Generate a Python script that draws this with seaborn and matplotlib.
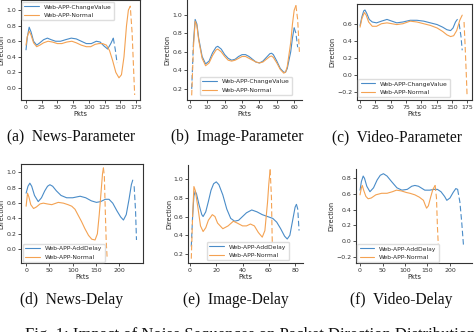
import matplotlib
matplotlib.use("Agg")
import matplotlib.pyplot as plt
from matplotlib.lines import Line2D
import numpy as np
import pandas as pd
import seaborn as sns

# ---------------- data ----------------
# (a) News-Parameter
a_blue_x = [0, 2, 5, 8, 12, 17, 22, 28, 34, 40, 47, 55, 63, 72, 80, 88, 96, 104, 112, 118, 124, 130, 135, 139, 142, 145]
a_blue_y = [0.49, 0.65, 0.78, 0.72, 0.60, 0.55, 0.58, 0.62, 0.64, 0.62, 0.60, 0.60, 0.62, 0.64, 0.63, 0.60, 0.57, 0.57, 0.60, 0.59, 0.54, 0.50, 0.57, 0.64, 0.50, 0.32]
a_orng_x = [0, 2, 5, 8, 12, 17, 22, 28, 35, 42, 50, 57, 65, 73, 80, 88, 96, 103, 110, 116, 122, 128, 133, 138, 143, 148, 152, 156, 160, 163, 166, 169, 171, 173]
a_orng_y = [0.55, 0.66, 0.73, 0.68, 0.58, 0.53, 0.55, 0.58, 0.60, 0.59, 0.57, 0.57, 0.59, 0.60, 0.58, 0.55, 0.53, 0.53, 0.56, 0.57, 0.57, 0.55, 0.48, 0.35, 0.20, 0.13, 0.17, 0.40, 0.80, 1.00, 1.05, 0.70, 0.30, -0.09]

# (b) Image-Parameter
b_blue_x = [1, 2, 3, 4, 5, 7, 9, 11, 13, 15, 16, 18, 20, 22, 24, 26, 28, 30, 32, 34, 36, 38, 40, 42, 44, 46, 47, 48, 50, 52, 54, 55, 56, 58, 59, 60, 61, 62]
b_blue_y = [0.20, 0.70, 0.95, 0.90, 0.75, 0.55, 0.47, 0.50, 0.59, 0.65, 0.66, 0.63, 0.57, 0.53, 0.51, 0.52, 0.55, 0.57, 0.57, 0.55, 0.52, 0.49, 0.48, 0.50, 0.54, 0.58, 0.585, 0.57, 0.50, 0.42, 0.38, 0.38, 0.42, 0.60, 0.75, 0.86, 0.80, 0.65]
b_orng_x = [1, 2, 3, 4, 5, 7, 9, 11, 13, 15, 16, 18, 20, 22, 24, 26, 28, 30, 32, 34, 36, 38, 40, 42, 44, 46, 47, 48, 50, 52, 54, 55, 56, 58, 59, 60, 61, 62, 63]
b_orng_y = [0.13, 0.65, 0.93, 0.88, 0.73, 0.53, 0.45, 0.48, 0.56, 0.62, 0.63, 0.60, 0.55, 0.51, 0.50, 0.51, 0.53, 0.55, 0.55, 0.53, 0.51, 0.49, 0.48, 0.49, 0.52, 0.55, 0.555, 0.54, 0.48, 0.41, 0.37, 0.38, 0.44, 0.70, 0.90, 1.05, 1.10, 0.95, 0.60]

# (c) Video-Parameter
c_blue_x = [0, 3, 6, 8, 11, 15, 20, 27, 35, 44, 52, 60, 70, 82, 93, 104, 115, 126, 135, 142, 148, 152, 156, 159, 162, 165, 167]
c_blue_y = [0.58, 0.68, 0.75, 0.76, 0.72, 0.65, 0.62, 0.61, 0.63, 0.65, 0.63, 0.61, 0.62, 0.64, 0.64, 0.63, 0.61, 0.59, 0.56, 0.53, 0.52, 0.55, 0.62, 0.65, 0.60, 0.45, 0.29]
c_orng_x = [0, 3, 7, 10, 14, 20, 27, 35, 44, 52, 60, 70, 82, 93, 104, 115, 126, 135, 142, 148, 153, 158, 163, 167, 170, 172, 174, 175]
c_orng_y = [0.56, 0.66, 0.73, 0.70, 0.62, 0.57, 0.57, 0.60, 0.61, 0.60, 0.59, 0.60, 0.63, 0.62, 0.60, 0.58, 0.55, 0.51, 0.47, 0.45, 0.46, 0.52, 0.64, 0.70, 0.62, 0.30, -0.05, -0.25]

# (d) News-Delay
d_blue_x = [0, 4, 8, 12, 18, 26, 33, 40, 46, 51, 57, 65, 75, 87, 100, 116, 128, 140, 151, 160, 170, 178, 186, 195, 203, 209, 215, 221, 226, 229, 232, 235, 237]
d_blue_y = [0.73, 0.82, 0.86, 0.82, 0.70, 0.62, 0.67, 0.76, 0.82, 0.84, 0.82, 0.76, 0.70, 0.67, 0.67, 0.69, 0.67, 0.63, 0.61, 0.62, 0.65, 0.65, 0.60, 0.50, 0.42, 0.38, 0.45, 0.65, 0.84, 0.90, 0.82, 0.50, 0.12]
d_orng_x = [0, 3, 6, 10, 16, 22, 30, 37, 45, 55, 69, 80, 90, 98, 105, 112, 119, 126, 134, 141, 148, 153, 157, 161, 164, 166, 168, 170, 172, 174]
d_orng_y = [0.56, 0.73, 0.68, 0.58, 0.53, 0.55, 0.59, 0.60, 0.59, 0.58, 0.61, 0.60, 0.58, 0.56, 0.52, 0.44, 0.36, 0.27, 0.18, 0.13, 0.12, 0.20, 0.45, 0.75, 0.98, 1.06, 0.95, 0.50, 0.10, -0.12]

# (e) Image-Delay
e_blue_x = [1, 2, 3, 4, 5, 7, 9, 10, 12, 14, 16, 18, 20, 22, 25, 28, 31, 34, 37, 40, 43, 47, 51, 55, 59, 63, 66, 69, 72, 74, 76, 78, 80, 81, 82, 83]
e_blue_y = [0.28, 0.60, 0.82, 0.87, 0.84, 0.72, 0.62, 0.60, 0.65, 0.76, 0.88, 0.95, 0.97, 0.94, 0.83, 0.68, 0.58, 0.55, 0.56, 0.60, 0.64, 0.67, 0.65, 0.62, 0.60, 0.58, 0.54, 0.47, 0.39, 0.36, 0.40, 0.55, 0.70, 0.73, 0.68, 0.45]
e_orng_x = [1, 2, 3, 4, 6, 8, 10, 12, 14, 17, 19, 21, 25, 29, 33, 36, 40, 43, 46, 49, 52, 55, 57, 59, 60, 61, 62, 62.5, 63]
e_orng_y = [0.15, 0.60, 0.92, 0.88, 0.70, 0.50, 0.44, 0.48, 0.56, 0.62, 0.60, 0.53, 0.47, 0.50, 0.55, 0.53, 0.50, 0.50, 0.52, 0.50, 0.43, 0.38, 0.45, 0.75, 0.95, 1.10, 0.80, 0.40, 0.15]

# (f) Video-Delay
f_blue_x = [0, 3, 7, 10, 15, 22, 30, 38, 45, 52, 60, 70, 82, 93, 105, 115, 122, 130, 144, 155, 165, 172, 180, 188, 193, 200, 207, 213, 217, 222, 226, 230]
f_blue_y = [0.65, 0.76, 0.83, 0.80, 0.70, 0.63, 0.68, 0.78, 0.84, 0.86, 0.83, 0.76, 0.68, 0.65, 0.66, 0.70, 0.71, 0.70, 0.65, 0.65, 0.66, 0.66, 0.63, 0.57, 0.52, 0.55, 0.62, 0.67, 0.66, 0.50, 0.25, -0.05]
f_orng_x = [0, 3, 5, 8, 13, 18, 25, 35, 48, 60, 72, 81, 92, 103, 111, 122, 132, 141, 145, 148, 152, 157, 162, 167, 170, 172, 174, 176]
f_orng_y = [0.59, 0.68, 0.71, 0.65, 0.57, 0.54, 0.55, 0.59, 0.61, 0.61, 0.63, 0.65, 0.64, 0.62, 0.61, 0.59, 0.56, 0.52, 0.46, 0.42, 0.45, 0.56, 0.66, 0.71, 0.55, 0.20, -0.05, -0.20]

captions = ["(a)  News-Parameter", "(b)  Image-Parameter", "(c)  Video-Parameter",
            "(d)  News-Delay", "(e)  Image-Delay", "(f)  Video-Delay"]
fig_caption = "Fig. 1: Impact of Noise Sequences on Packet Direction Distribution"
label_param = ["Web-APP-ChangeValue", "Web-APP-Normal"]
label_delay = ["Web-APP-AddDelay", "Web-APP-Normal"]

# ---------------- style ----------------
sns.set_theme(style="ticks")
plt.rcParams["font.family"] = ["DejaVu Sans"]

BLUE = "#4a8cc8"
ORNG = "#f4a252"
W, H = 474, 332

fig = plt.figure(figsize=(W / 100, H / 100), dpi=100)


def px_axes(l, t, r, b):
    return fig.add_axes([l / W, 1 - b / H, (r - l) / W, (b - t) / H])


panels = [
    dict(box=(21, 0, 140, 100), bx=a_blue_x, by=a_blue_y, ox=a_orng_x, oy=a_orng_y,
         bsplit=(0, 139), osplit=(0, 163), xlim=(-8, 181.5), ylim=(-0.155, 1.13),
         xt=[0, 25, 50, 75, 100, 125, 150, 175], yt=[0.0, 0.2, 0.4, 0.6, 0.8, 1.0],
         labels=label_param, leg=("upper left", (0.008, 0.98)), full=True),
    dict(box=(187, 0, 302, 100), bx=b_blue_x, by=b_blue_y, ox=b_orng_x, oy=b_orng_y,
         bsplit=(2, 60), osplit=(2, 61), xlim=(-1.7, 64.5), ylim=(0.08, 1.16),
         xt=[0, 10, 20, 30, 40, 50, 60], yt=[0.2, 0.4, 0.6, 0.8, 1.0],
         labels=label_param, leg=("lower left", (0.11, 0.05)), full=False),
    dict(box=(357, 4, 472, 100), bx=c_blue_x, by=c_blue_y, ox=c_orng_x, oy=c_orng_y,
         bsplit=(0, 160), osplit=(0, 168), xlim=(-5, 183), ylim=(-0.29, 0.83),
         xt=[0, 25, 50, 75, 100, 125, 150, 175], yt=[-0.2, 0.0, 0.2, 0.4, 0.6],
         labels=label_param, leg=("lower left", (0.01, 0.03)), full=True),
    dict(box=(21, 164, 143, 263), bx=d_blue_x, by=d_blue_y, ox=d_orng_x, oy=d_orng_y,
         bsplit=(0, 230), osplit=(0, 166), xlim=(-11, 251), ylim=(-0.18, 1.11),
         xt=[0, 50, 100, 150, 200], yt=[0.0, 0.2, 0.4, 0.6, 0.8, 1.0],
         labels=label_delay, leg=("lower left", (0.016, 0.01)), full=True),
    dict(box=(188, 165, 303, 263), bx=e_blue_x, by=e_blue_y, ox=e_orng_x, oy=e_orng_y,
         bsplit=(2, 81), osplit=(2, 61), xlim=(-1.5, 86), ylim=(0.104, 1.15),
         xt=[0, 20, 40, 60, 80], yt=[0.2, 0.4, 0.6, 0.8, 1.0],
         labels=label_delay, leg=("lower left", (0.165, 0.03)), full=False),
    dict(box=(356, 169, 472, 263), bx=f_blue_x, by=f_blue_y, ox=f_orng_x, oy=f_orng_y,
         bsplit=(0, 217), osplit=(0, 167), xlim=(-9, 249), ylim=(-0.28, 0.92),
         xt=[0, 50, 100, 150, 200], yt=[-0.2, 0.0, 0.2, 0.4, 0.6, 0.8],
         labels=label_delay, leg=("lower left", (0.01, 0.01)), full=False),
]

LW = 0.8


def draw_series(ax, xs, ys, split, color):
    df = pd.DataFrame({"Pkts": xs, "Direction": ys})
    h0, t0 = split
    solid = df[(df.Pkts >= h0) & (df.Pkts <= t0)]
    head = df[df.Pkts <= h0]
    tail = df[df.Pkts >= t0]
    sns.lineplot(data=solid, x="Pkts", y="Direction", ax=ax, color=color, lw=LW,
                 estimator=None, sort=False)
    for part in (head, tail):
        if len(part) > 1:
            sns.lineplot(data=part, x="Pkts", y="Direction", ax=ax, color=color, lw=LW,
                         estimator=None, sort=False, linestyle=(0, (5, 2.5)))


for i, p in enumerate(panels):
    ax = px_axes(*p["box"])
    draw_series(ax, p["bx"], p["by"], p["bsplit"], BLUE)
    draw_series(ax, p["ox"], p["oy"], p["osplit"], ORNG)
    ax.set_xlim(*p["xlim"])
    ax.set_ylim(*p["ylim"])
    ax.set_xticks(p["xt"])
    ax.set_yticks(p["yt"])
    ax.set_yticklabels([f"{v:.1f}".replace("-", "\u2212") for v in p["yt"]])
    ax.tick_params(labelsize=4.5, length=2, width=0.6, pad=1.5, colors="#333333")
    ax.set_xlabel("Pkts", fontsize=4.8, labelpad=0.5, color="#222222")
    ax.set_ylabel("Direction", fontsize=4.8, labelpad=1, color="#222222")
    for s in ax.spines.values():
        s.set_linewidth(0.8)
        s.set_color("#333333")
    if not p["full"]:
        ax.spines["top"].set_visible(False)
        ax.spines["right"].set_visible(False)
    handles = [Line2D([], [], color=BLUE, lw=LW), Line2D([], [], color=ORNG, lw=LW)]
    loc, anchor = p["leg"]
    ax.legend(handles, p["labels"], loc=loc, bbox_to_anchor=anchor, borderaxespad=0,
              fontsize=4.3, handlelength=2.5, frameon=True, framealpha=1,
              edgecolor="#dddddd", fancybox=True)

# captions
cap_pos = [(71, 137), (237, 137), (397, 137), (71, 300), (236, 300), (401, 300)]
for txt, (cx, cy) in zip(captions, cap_pos):
    fig.text(cx / W, 1 - cy / H, txt, ha="center", va="center", fontsize=11.2,
             family=["Liberation Serif"], color="#111111")
fig.text(25 / W, 1 - 339 / H, fig_caption, ha="left", va="baseline", fontsize=12,
         family=["Liberation Serif"], color="#111111")

fig.savefig("out.png", dpi=100)
